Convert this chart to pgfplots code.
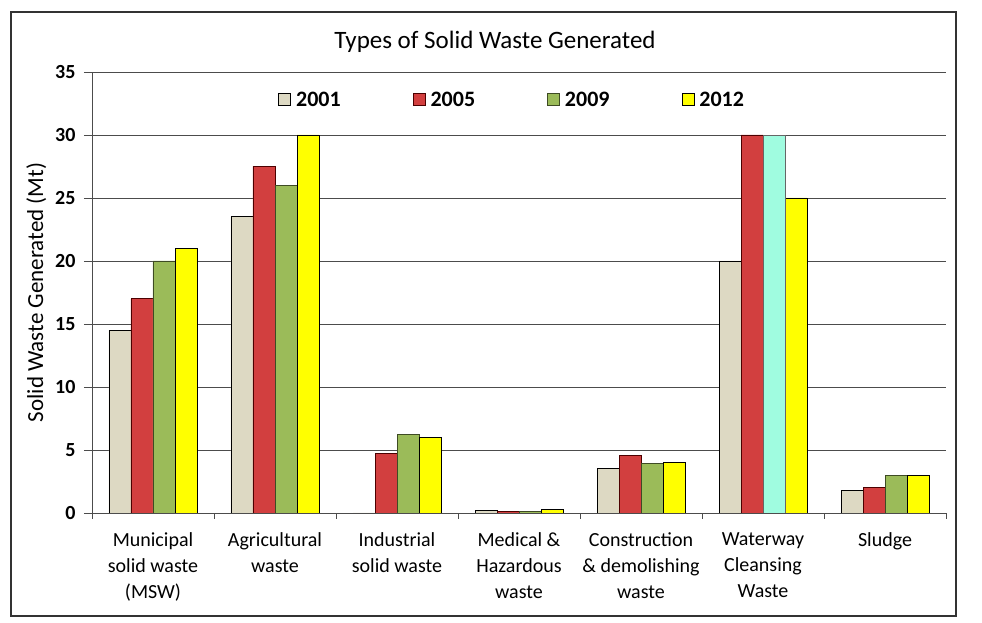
\documentclass[border=0pt]{standalone}
\usepackage{fontspec}
\setmainfont{Carlito}
\usepackage{pgfplots}
\pgfplotsset{compat=1.18}

\definecolor{c2001}{HTML}{DDD9C3}
\definecolor{c2005}{HTML}{D23F3F}
\definecolor{c2009}{HTML}{9BBB59}
\definecolor{c2012}{HTML}{FFFF00}
\definecolor{aqua}{HTML}{A0FCE0}

\begin{document}
\begin{tikzpicture}[x=1pt,y=1pt]
\useasboundingbox (0,0) rectangle (982,623);
\draw[line width=1.5pt, black!80] (11,7) rectangle (956,611);
\node[font=\fontsize{25}{28}\selectfont] at (495,581) {Types of Solid Waste Generated};
\begin{axis}[
  at={(92pt,110pt)}, anchor=south west,
  scale only axis, width=854pt, height=441pt,
  ybar, bar width=22pt,
  xmin=-0.5, xmax=6.5, ymin=0, ymax=35,
  axis x line*=bottom, axis y line*=left,
  axis line style={black!70, line width=0.8pt},
  ytick={0,5,...,35},
  ymajorgrids, grid style={black!70, line width=0.8pt},
  tick align=outside,
  major tick length=8pt,
  xtick={0,...,6},
  major x tick style={draw=none},
  minor xtick={-0.5,0.5,...,6.5},
  minor tick length=6pt,
  minor x tick style={black!70, line width=0.8pt},
  y tick style={black!70, line width=0.8pt},
  xticklabels={{Municipal\\solid waste\\(MSW)},{Agricultural\\waste},{Industrial\\solid waste},{Medical \&\\Hazardous\\waste},{Construction\\\& demolishing\\waste},{Waterway\\Cleansing\\Waste},{Sludge}},
  xticklabel style={align=center, font=\fontsize{20}{26}\selectfont, yshift=-8pt},
  yticklabel style={font=\fontsize{20}{22}\selectfont\bfseries, xshift=-5pt},
  /pgf/number format/assume math mode=true,
  ylabel={Solid Waste Generated (Mt)},
  ylabel style={font=\fontsize{23}{26}\selectfont, yshift=2pt},
  legend columns=4,
  legend style={draw=none, fill=none, at={(0.492,0.937)}, anchor=center,
    font=\fontsize{22}{26}\selectfont\bfseries,
    /tikz/every odd column/.append style={column sep=3pt},
    /tikz/every even column/.append style={column sep=70pt}},
  legend image code/.code={\draw[#1, line width=0.8pt] (0pt,-6pt) rectangle (12pt,6pt);},
  every axis plot/.append style={line width=0.8pt},
]
\addplot[fill=c2001, draw=black, bar shift=-33pt] coordinates {
  (0,14.5) (1,23.5) (2,0) (3,0.2) (4,3.55) (5,20) (6,1.8)};
\addplot[fill=c2005, draw=black!70!red, bar shift=-11pt] coordinates {
  (0,17) (1,27.5) (2,4.75) (3,0.15) (4,4.55) (5,30) (6,2)};
\addplot[fill=c2009, draw=black!60!c2009, bar shift=11pt] coordinates {
  (0,20) (1,26) (2,6.2) (3,0.13) (4,3.9) (6,3)};
\addplot[fill=c2012, draw=black, bar shift=33pt] coordinates {
  (0,21) (1,30) (2,6) (3,0.3) (4,4) (5,25) (6,3)};
\addplot[fill=aqua, draw=black!60, bar shift=11pt, forget plot] coordinates {(5,30)};
\legend{2001,2005,2009,2012}
\end{axis}
\end{tikzpicture}
\end{document}
